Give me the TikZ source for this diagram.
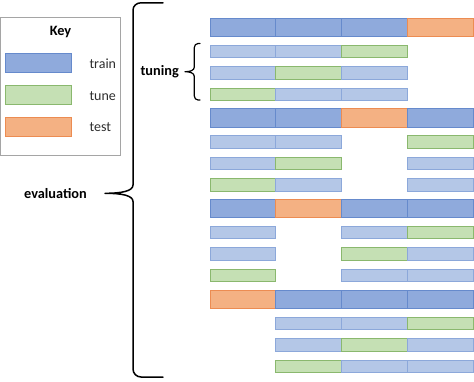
\documentclass[tikz,border=0pt]{standalone}
\usepackage{fontspec}
\setmainfont{Carlito}
\definecolor{trainD}{RGB}{143,170,220}
\definecolor{trainDline}{RGB}{102,138,204}
\definecolor{trainL}{RGB}{180,199,231}
\definecolor{trainLline}{RGB}{140,168,218}
\definecolor{tuneL}{RGB}{197,224,180}
\definecolor{tuneLline}{RGB}{138,184,110}
\definecolor{testL}{RGB}{244,177,131}
\definecolor{testLline}{RGB}{236,140,82}
\definecolor{keyline}{RGB}{165,165,165}
\definecolor{keyink}{RGB}{45,45,45}
\tikzset{cell/.style = {draw, rectangle, inner sep=0pt, outer sep=0pt, line width=0.9pt, anchor=north west, minimum width=65.75pt},
         trainbar/.style = {cell, fill=trainD, draw=trainDline, minimum height=18.5pt},
         testbar/.style = {cell, fill=testL, draw=testLline, minimum height=18.5pt},
         traincell/.style = {cell, fill=trainL, draw=trainLline, minimum height=12.5pt},
         tunecell/.style = {cell, fill=tuneL, draw=tuneLline, minimum height=12.5pt},
         swatch/.style = {cell, minimum width=65.7pt, minimum height=19pt},
         keytext/.style = {font=\fontsize{14}{16}\selectfont, text=keyink, anchor=west, inner sep=0pt},
         bold/.style = {font=\fontsize{14.3}{17}\selectfont\bfseries, inner sep=0pt},
         curly/.style = {line width=1.5pt, line cap=round, line join=round}}

\begin{document}
\begin{tikzpicture}[x=1pt,y=-1pt]
    \useasboundingbox (0,0) rectangle (474,381);
    % key
    \draw[draw=keyline, line width=0.8pt] (0.5,17.7) rectangle (120.7,155);
    \node[bold](key)at(60.5,31.5){Key};
    \node[swatch, fill=trainD, draw=trainDline](ktrain)at(5.3,53.3){};
    \node[swatch, fill=tuneL, draw=tuneLline](ktune)at(5.3,85){};
    \node[swatch, fill=testL, draw=testLline](ktest)at(5.3,117.3){};
    \node[keytext](ltrain)at(89.3,63.3){train};
    \node[keytext](ltune)at(89.3,96.5){tune};
    \node[keytext](ltest)at(89.3,127.5){test};

    % folds: outer bar, then three tuning bars
    \foreach \f/\t in {1/4,2/3,3/2,4/1}{
        \pgfmathsetmacro\rowy{18+90.67*(\f-1)}
        \foreach \c in {1,...,4}{
            \pgfmathsetmacro\xl{210+65.75*(\c-1)}
            \ifnum\c=\t \def\sty{testbar}\else\def\sty{trainbar}\fi
            \node[\sty](f\f c\c)at(\xl,\rowy){};
            \ifnum\c=\t\else
                \foreach \r in {1,2,3}{
                    \pgfmathtruncatemacro\k{\c-(\c>\t)}
                    \ifnum\k=\numexpr4-\r\relax \def\sty{tunecell}\else\def\sty{traincell}\fi
                    \node[\sty](f\f r\r c\c)at(\xl,{\rowy+5.5+21.5*\r}){};
                }
            \fi
        }
    }

    % braces
    \node[bold, anchor=east](evaluation)at(87,193.3){evaluation};
    \draw[curly](163,2.8)--(141,2.8)to[out=180,in=90](133,10)--(133,185)
        .. controls (133,191) and (122,193.3) .. (105,193.3)
        .. controls (122,193.3) and (133,195.5) .. (133,201.5)--(133,369)
        to[out=-90,in=180](141,377)--(163,377);
    \node[bold, anchor=east](tuning)at(179,71.5){tuning};
    \draw[curly, line width=1.2pt](200,43.5)--(198,43.5)to[out=180,in=90](194.3,47.5)--(194.3,67)
        .. controls (194.3,70.5) and (190,71.7) .. (185,71.7)
        .. controls (190,71.7) and (194.3,73) .. (194.3,76.5)--(194.3,96)
        to[out=-90,in=180](198,100)--(200,100);
\end{tikzpicture}
\end{document}
